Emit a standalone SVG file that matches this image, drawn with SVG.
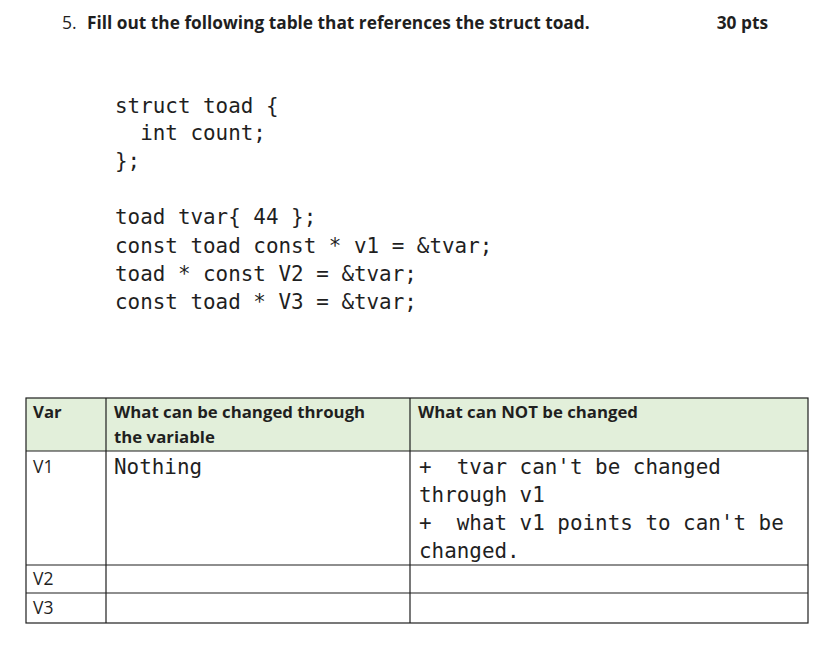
<svg xmlns="http://www.w3.org/2000/svg" width="831" height="645" viewBox="0 0 831 645">
<style>
.h{font-family:"Open Sans","Liberation Sans",sans-serif;font-weight:bold;font-size:16.8px;fill:#1f1f1f}
.t{font-family:"Open Sans","Liberation Sans",sans-serif;font-weight:bold;font-size:17.3px;fill:#1f1f1f}
.s{font-family:"Open Sans","Liberation Sans",sans-serif;font-size:17.5px;fill:#1f1f1f}
.c{font-family:"DejaVu Sans Mono","Liberation Mono",monospace;font-size:20.9px;fill:#1f1f1f}
.l{stroke:#1f1f1f;stroke-width:1.2;fill:none}
</style>
<rect width="831" height="645" fill="#fff"/>
<text x="62" y="29" class="s">5.</text>
<text x="87" y="29" class="t">Fill out the following table that references the struct toad.</text>
<text x="768" y="29" class="t" text-anchor="end">30 pts</text>
<g class="c">
<text x="115" y="113">struct toad {</text>
<text x="115" y="140">&#160;&#160;int count;</text>
<text x="115" y="168">};</text>
<text x="115" y="224">toad tvar{ 44 };</text>
<text x="115" y="253">const toad const * v1 = &amp;tvar;</text>
<text x="115" y="281">toad * const V2 = &amp;tvar;</text>
<text x="115" y="309">const toad * V3 = &amp;tvar;</text>
</g>
<rect x="26" y="398" width="782" height="53" fill="#e2efda"/>
<g class="l">
<rect x="26" y="398" width="782" height="225"/>
<line x1="26" y1="451" x2="808" y2="451"/>
<line x1="26" y1="565" x2="808" y2="565"/>
<line x1="26" y1="593" x2="808" y2="593"/>
<line x1="106" y1="398" x2="106" y2="623"/>
<line x1="410" y1="398" x2="410" y2="623"/>
</g>
<text x="33" y="418" class="h">Var</text>
<text x="114" y="418" class="h">What can be changed through</text>
<text x="114" y="443" class="h">the variable</text>
<text x="418" y="418" class="h">What can NOT be changed</text>
<text x="33" y="473" class="s">V1</text>
<text x="33" y="585" class="s">V2</text>
<text x="33" y="614" class="s">V3</text>
<g class="c">
<text x="114" y="474">Nothing</text>
<text x="419" y="474">+&#160;&#160;tvar can't be changed</text>
<text x="419" y="502">through v1</text>
<text x="419" y="530">+&#160;&#160;what v1 points to can't be</text>
<text x="419" y="558">changed.</text>
</g>
</svg>
